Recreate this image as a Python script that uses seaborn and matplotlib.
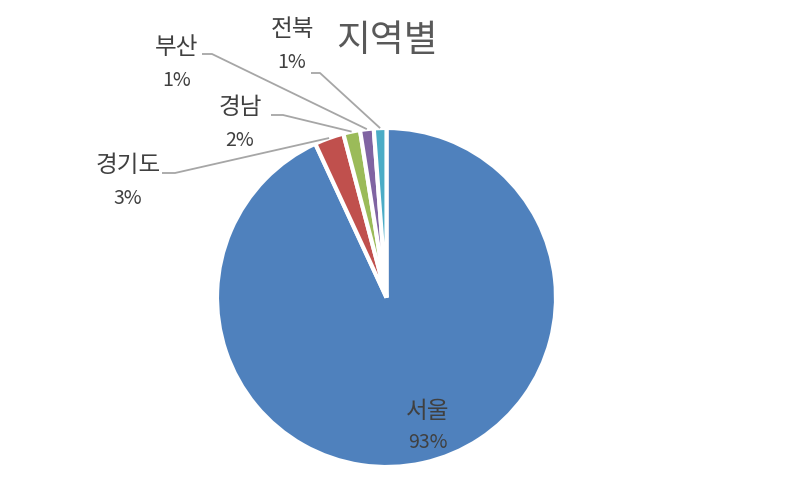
#%% Import Libraries
import numpy as np
import seaborn as sns
import matplotlib
matplotlib.use("Agg")
import matplotlib.pyplot as plt

#%% Data
regions = ["서울", "경기도", "경남", "부산", "전북"]
shares = [93.1, 2.8, 1.6, 1.3, 1.2]
colors = ["#4F81BD", "#C0504D", "#9BBB59", "#8064A2", "#4BACC6"]
title = "지역별"

#%% Style
sns.set_style("white")
plt.rcParams['font.family'] = ['Noto Sans CJK KR', 'DejaVu Sans']
palette = sns.color_palette(colors)

#%% Pie chart (axes in pixel units, y up)
W, H = 786, 497
fig = plt.figure(figsize=(W / 100, H / 100), dpi=100)
ax = fig.add_axes([0, 0, 1, 1])

cx, cy, r = 386.5, H - 297.5, 169.5
wedges, _ = ax.pie(shares, colors=palette, startangle=90, counterclock=False,
                   center=(cx, cy), radius=r, frame=True,
                   wedgeprops=dict(edgecolor="white", linewidth=3))
ax.set_xlim(0, W)
ax.set_ylim(0, H)
ax.set_aspect("equal")
ax.axis("off")

txt = "#404040"
line_c = "#A6A6A6"

# label centre (image px) and horizontal stub x range for outside labels
label_pos = {
    "경기도": ((128, 165), (162, 175)),
    "경남": ((240, 107), (271, 283)),
    "부산": ((177, 47), (202, 212)),
    "전북": ((292, 29), (311, 320)),
}
stub_y = {"경기도": 173, "경남": 115, "부산": 54, "전북": 73}

for w, name, val in zip(wedges, regions, shares):
    pct = f"{val:.0f}%"
    if name == "서울":
        ax.text(428, H - 411, name, ha="center", va="center", fontsize=17, color=txt)
        ax.text(428, H - 442, pct, ha="center", va="center", fontsize=14, color=txt)
        continue
    mid = np.deg2rad((w.theta1 + w.theta2) / 2)
    ex, ey = cx + r * np.cos(mid), cy + r * np.sin(mid)
    (lx, ly), (s0, s1) = label_pos[name]
    sy = H - stub_y[name]
    ax.plot([s0, s1, ex], [sy, sy, ey], color=line_c, lw=1.3, solid_capstyle="butt")
    ax.text(lx, H - ly, name, ha="center", va="center", fontsize=17, color=txt)
    ax.text(lx, H - ly - 34, pct, ha="center", va="center", fontsize=14, color=txt)

ax.text(387, H - 40, title, ha="center", va="center", fontsize=26.5, color="#595959")

fig.savefig("out.png", dpi=100)
